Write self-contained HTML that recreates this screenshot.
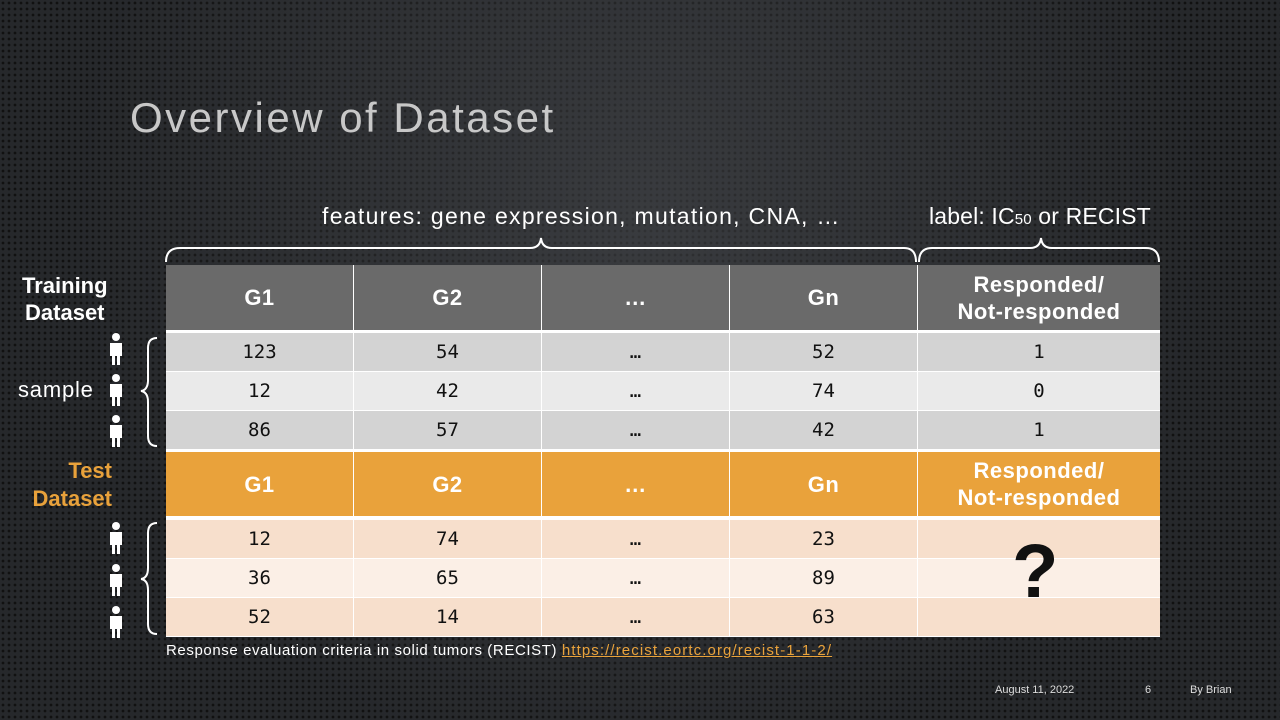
<!DOCTYPE html><html><head><style>
body{margin:0;width:1280px;height:720px;overflow:hidden;font-family:"Liberation Sans",sans-serif;
background-color:#26282b;background-image:radial-gradient(circle at 50% 30%,rgba(70,72,76,.6),rgba(0,0,0,0) 70%),radial-gradient(circle,#111 1.2px,transparent 1.6px);background-size:100% 100%,6px 6px;position:relative}
.a{position:absolute;white-space:nowrap}
.c{position:absolute;display:flex;align-items:center;justify-content:center;text-align:center;box-sizing:border-box}
.h{color:#fff;font-weight:bold;font-size:22px;line-height:27px;letter-spacing:.5px}
.m{font-family:"DejaVu Sans Mono",monospace;font-size:19px;color:#111}
</style></head><body>
<div class="a" style="left:130px;top:94px;font-size:42px;color:#c8c8c8;letter-spacing:2.5px">Overview of Dataset</div>
<div class="a" style="left:322px;top:203px;font-size:23px;color:#fff;letter-spacing:1.3px">features: gene expression, mutation, CNA, …</div>
<div class="a" style="left:929px;top:203px;font-size:23px;color:#fff;letter-spacing:.15px">label: IC<span style="font-size:15px">50</span> or RECIST</div>
<svg class="a" style="left:0;top:0" width="1280" height="720">
<g fill="none" stroke="#fff" stroke-width="2">
<path d="M166,262 Q166,248 180,248 L530,248 Q540,248 541,238 Q542,248 552,248 L904,248 Q916,248 916,262"/>
<path d="M919,262 Q919,248 932,248 L1030,248 Q1040,248 1041,238 Q1042,248 1052,248 L1146,248 Q1159,248 1159,262"/>
<path d="M157,338 Q148,338 148,348 L148,380 Q148,390 141,391 Q148,392 148,402 L148,436 Q148,446 157,446"/>
<path d="M157,523 Q148,523 148,533 L148,568 Q148,578 141,579 Q148,580 148,590 L148,624 Q148,634 157,634"/>
</g>
<g fill="#fff">
<circle cx="116" cy="337" r="4"/><path d="M110,343 h12 v13 h-2 v9 h-3 v-9 h-2 v9 h-3 v-9 h-2z"/>
<circle cx="116" cy="378" r="4"/><path d="M110,384 h12 v13 h-2 v9 h-3 v-9 h-2 v9 h-3 v-9 h-2z"/>
<circle cx="116" cy="419" r="4"/><path d="M110,425 h12 v13 h-2 v9 h-3 v-9 h-2 v9 h-3 v-9 h-2z"/>
<circle cx="116" cy="526" r="4"/><path d="M110,532 h12 v13 h-2 v9 h-3 v-9 h-2 v9 h-3 v-9 h-2z"/>
<circle cx="116" cy="568" r="4"/><path d="M110,574 h12 v13 h-2 v9 h-3 v-9 h-2 v9 h-3 v-9 h-2z"/>
<circle cx="116" cy="610" r="4"/><path d="M110,616 h12 v13 h-2 v9 h-3 v-9 h-2 v9 h-3 v-9 h-2z"/>
</g></svg>
<div class="a" style="left:22px;top:272px;font-size:22px;font-weight:bold;color:#fff;text-align:center;line-height:27px">Training<br>Dataset</div>
<div class="a" style="left:18px;top:377px;font-size:22px;color:#fff;letter-spacing:.8px">sample</div>
<div class="a" style="left:22px;top:457px;font-size:22px;font-weight:bold;color:#e9a23b;text-align:right;width:90px;line-height:28px">Test<br>Dataset</div>
<div class="a" style="left:166px;top:265px;width:994px;height:372px;background:#fff"></div>
<div id="t"></div>
<script>
var xs=[166,354,542,730,918,1160];
var rows=[[265,65,'#6a6a6a',['G1','G2','…','Gn','Responded/<br>Not-responded'],1],
[333,38,'#d3d3d3',['123','54','…','52','1'],0],[372,38,'#eaeaea',['12','42','…','74','0'],0],[411,38,'#d3d3d3',['86','57','…','42','1'],0],
[452,64,'#e9a23b',['G1','G2','…','Gn','Responded/<br>Not-responded'],1],
[520,38,'#f7dfcc',['12','74','…','23',''],0],[559,38,'#fbefe6',['36','65','…','89',''],0],[598,38,'#f7dfcc',['52','14','…','63',''],0]];
var h='';rows.forEach(function(r){for(var i=0;i<5;i++){var w=xs[i+1]-xs[i]-(i<4?1:0);
h+='<div class="c '+(r[4]?'h':'m')+'" style="left:'+xs[i]+'px;top:'+r[0]+'px;width:'+w+'px;height:'+r[1]+'px;background:'+r[2]+'">'+r[3][i]+'</div>';}});
document.getElementById('t').innerHTML=h;
</script>
<div class="a" style="left:1012px;top:528px;font-size:76px;font-weight:bold;color:#111">?</div>
<div class="a" style="left:166px;top:642px;font-size:15px;color:#fff;letter-spacing:.6px">Response evaluation criteria in solid tumors (RECIST) <span style="color:#e9a23b;text-decoration:underline;letter-spacing:1.1px">https://recist.eortc.org/recist-1-1-2/</span></div>
<div class="a" style="left:995px;top:684px;font-size:11px;color:#ddd">August 11, 2022</div>
<div class="a" style="left:1145px;top:684px;font-size:11px;color:#ddd">6</div>
<div class="a" style="left:1190px;top:684px;font-size:11px;color:#ddd">By Brian</div>
</body></html>
